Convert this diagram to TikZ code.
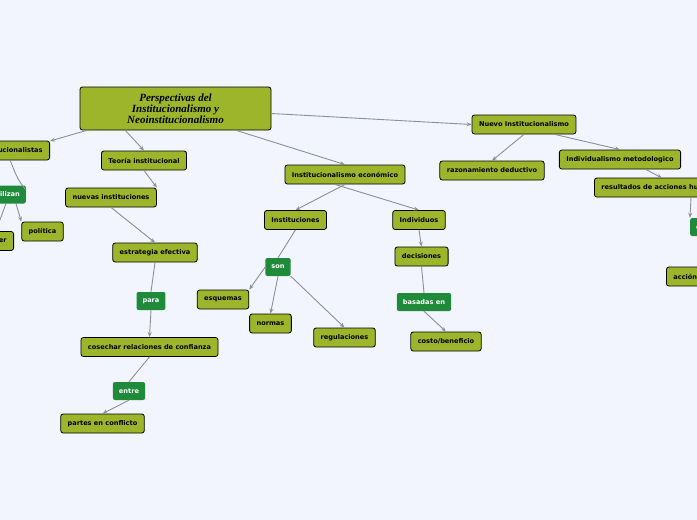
\documentclass[tikz,border=0pt]{standalone}
\usepackage{fontspec}
\setmainfont{DejaVu Sans}
\newfontfamily\rootfont{Liberation Serif}
\usetikzlibrary{positioning,arrows.meta}
\definecolor{bgc}{HTML}{F2F5FE}
\definecolor{olive}{HTML}{9DB52B}
\definecolor{leaf}{HTML}{1E8A3A}
\definecolor{wire}{HTML}{8A8F99}
\begin{document}
\begin{tikzpicture}[x=1pt,y=-1pt,
		topic/.style={draw=black,fill=olive,rounded corners=2.5pt,line width=0.8pt,minimum height=19pt,inner xsep=7pt,font=\fontsize{6.6}{7.5}\selectfont\bfseries},
		link/.style={fill=leaf,rounded corners=2pt,minimum height=18pt,inner xsep=6pt,text=white,font=\fontsize{6.6}{7.5}\selectfont\bfseries},
		> = {Stealth[length=5pt,width=4pt]},
		wire/.style={draw=wire,line width=0.9pt}
		]
		\fill[bgc] (0,0) rectangle (697,520);
		\clip (0,0) rectangle (697,520);
		% root
		\node[topic,minimum width=191pt,minimum height=43pt,align=center,font=\rootfont\fontsize{11}{11}\selectfont\bfseries\itshape] at (175.5,108.5) (root) {Perspectivas del\\Institucionalismo y\\Neoinstitucionalismo};
		% left branch
		\node[topic,anchor=east] at (50,150.5) (neo) {Neoinstitucionalistas};
		\node[link,anchor=east] at (26,194.5) (util) {utilizan};
		\node[topic,anchor=east] at (14,241) (poder) {poder};
		\node[topic] at (42.5,231.5) (polit) {política};
		% Teoría institucional
		\node[topic] at (144,160.5) (teoria) {Teoría institucional};
		\node[topic] at (111,197.5) (nuevas) {nuevas instituciones};
		\node[topic] at (155,252.5) (estr) {estrategia efectiva};
		\node[link] at (151,301) (para) {para};
		\node[topic] at (149.5,347) (cosech) {cosechar relaciones de confianza};
		\node[link] at (129,391) (entre) {entre};
		\node[topic] at (102.5,423.5) (partes) {partes en conflicto};
		% Institucionalismo económico
		\node[topic] at (345,174.5) (econ) {Institucionalismo económico};
		\node[topic] at (295.5,220) (inst) {Instituciones};
		\node[link] at (278,267) (son) {son};
		\node[topic] at (223,299.5) (esq) {esquemas};
		\node[topic] at (270.5,323.5) (norm) {normas};
		\node[topic] at (344.5,337.5) (regul) {regulaciones};
		\node[topic] at (419,220) (indiv) {Individuos};
		\node[topic] at (421.5,256.5) (decis) {decisiones};
		\node[link] at (424,302) (basad) {basadas en};
		\node[topic] at (446,341.5) (costo) {costo/beneficio};
		% Nuevo Institucionalismo
		\node[topic] at (524,124.5) (nuevo) {Nuevo Institucionalismo};
		\node[topic] at (492,170.5) (razon) {razonamiento deductivo};
		\node[topic] at (620,159.5) (metod) {Individualismo metodologico};
		\node[topic,anchor=west] at (594,187.5) (result) {resultados de acciones humanas};
		\node[link,anchor=west] at (690,227) (surge) {de};
		\node[topic,anchor=west] at (666,276.5) (accion) {acción};
		% connectors
		\draw[wire,->] (88,130) -- (50,141);
		\draw[wire] (10,160) .. controls (18,180) .. (26,190);
		\draw[wire,->] (util.south east) ++(-10,0) -- (polit.north west);
		\draw[wire] (util.south) -- (poder.north);
		\draw[wire,->] (125,130) -- (teoria.north);
		\draw[wire,->] (teoria.south) -- (nuevas.north east);
		\draw[wire,->] (nuevas.south) -- (estr.north);
		\draw[wire] (estr.south) -- (para.north);
		\draw[wire,->] (para.south) -- (cosech.north);
		\draw[wire] (cosech.south) -- (entre.north);
		\draw[wire,->] (entre.south) -- (partes.north);
		\draw[wire,->] (235,130) -- (econ.north);
		\draw[wire,->] (econ.south) -- (inst.north);
		\draw[wire] (inst.south) -- (son.north);
		\draw[wire,->] (son.west) -- (esq.north east);
		\draw[wire,->] (son.south) -- (norm.north);
		\draw[wire,->] (son.south east) -- (regul.north);
		\draw[wire,->] (econ.south) ++(-10,0) -- (indiv.north);
		\draw[wire,->] (indiv.south) -- (decis.north);
		\draw[wire] (decis.south) -- (basad.north);
		\draw[wire,->] (basad.south) -- (costo.north);
		\draw[wire,->] (root.east) ++(0,5) -- (nuevo.west);
		\draw[wire,->] (nuevo.south) -- (razon.north);
		\draw[wire,->] (553,134) -- (metod.north);
		\draw[wire,->] (645,169) -- (662,178);
		\draw[wire,->] (691,197) -- (surge.north west);
\end{tikzpicture}
\end{document}
